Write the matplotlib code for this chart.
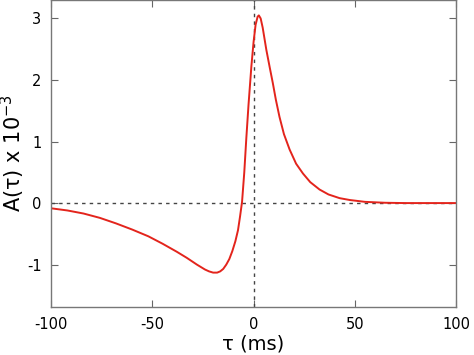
import numpy as np
import matplotlib.pyplot as plt

plt.rcParams['axes.unicode_minus'] = False

# values (tau in ms, A in units of 1e-3)
tau = [-100, -92, -84, -76, -68, -60, -52, -45, -38, -33, -28, -24, -22, -20,
       -18, -16.5, -15, -13.5, -12, -10.5, -9, -7.7, -6.7, -5.7, -4.6, -3.6,
       -2.5, -1.1, 0, 1, 2, 2.6, 3.5, 4.5, 6.3, 8, 9.5, 11, 12.8, 15, 17.8,
       21, 24.4, 28, 32.6, 37, 42.5, 47.5, 55, 65, 75, 100]
amp = [-0.085, -0.12, -0.17, -0.24, -0.33, -0.43, -0.54, -0.66, -0.79, -0.89,
       -1.00, -1.08, -1.11, -1.13, -1.13, -1.11, -1.07, -1.00, -0.91, -0.78,
       -0.62, -0.44, -0.22, 0.02, 0.50, 1.05, 1.60, 2.22, 2.62, 2.90, 3.03,
       3.05, 3.00, 2.85, 2.49, 2.20, 1.95, 1.68, 1.40, 1.12, 0.87, 0.64, 0.48,
       0.34, 0.22, 0.14, 0.08, 0.05, 0.02, 0.005, 0.0, 0.0]

xticks = [-100, -50, 0, 50, 100]
yticks = [-1, 0, 1, 2, 3]

fig = plt.figure(figsize=(4.74, 3.55), dpi=100)
ax = fig.add_axes([0.108, 0.135, 0.854, 0.865])

ax.axhline(0, color='#444444', lw=1.0, ls=(0, (2.5, 3)))
ax.axvline(0, color='#444444', lw=1.0, ls=(0, (2.5, 3)))
ax.plot(tau, amp, color='#e3241c', lw=1.4)

ax.set_xlim(-100, 100)
ax.set_ylim(-1.69, 3.3)
ax.set_xticks(xticks)
ax.set_yticks(yticks)
ax.tick_params(direction='in', top=True, right=True, length=5,
               color='#666666', labelsize=10.5, pad=7)
for s in ax.spines.values():
    s.set_color('#777777')
    s.set_linewidth(1.0)

ax.set_xlabel('τ (ms)', fontsize=14, labelpad=2)
ax.set_ylabel('A(τ) x 10$^{-3}$', fontsize=15)
ax.yaxis.set_label_coords(-0.06, 0.5)

fig.savefig('out.png', dpi=100)
